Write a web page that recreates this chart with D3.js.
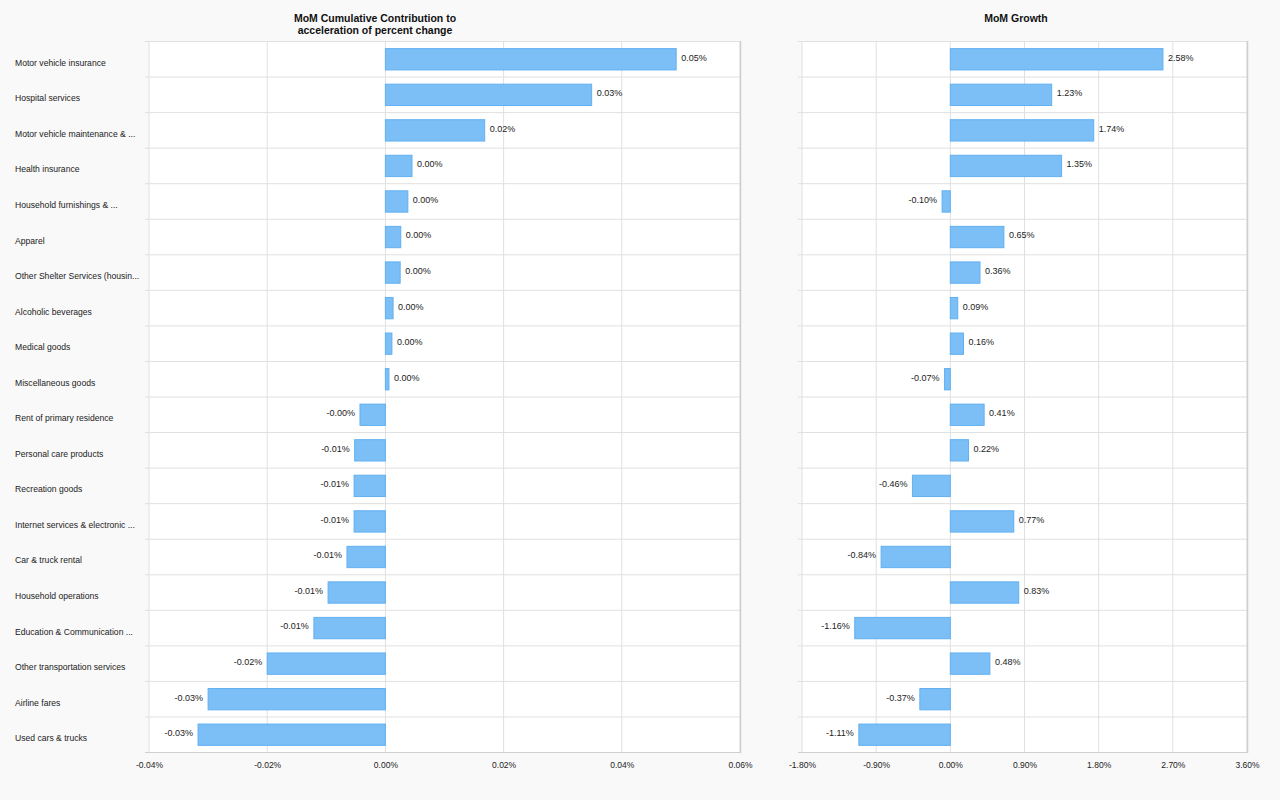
<!DOCTYPE html>
<html>
<head>
<meta charset="utf-8">
<script src="https://d3js.org/d3.v7.min.js"></script>
<style>
  body { margin: 0; background: #f9f9f9; }
  svg { display: block; font-family: "Liberation Sans", Arial, sans-serif; }
  .grid line { stroke: #e0e0e0; stroke-width: 1; }
  .cat { font-size: 8.6px; fill: #222; }
  .val { font-size: 9px; fill: #222; }
  .tick text { font-size: 8.5px; fill: #222; }
  .title { font-size: 10.5px; font-weight: bold; fill: #111; }
</style>
</head>
<body>
<script>
// data
var categories = [
  "Motor vehicle insurance",
  "Hospital services",
  "Motor vehicle maintenance & ...",
  "Health insurance",
  "Household furnishings & ...",
  "Apparel",
  "Other Shelter Services (housin...",
  "Alcoholic beverages",
  "Medical goods",
  "Miscellaneous goods",
  "Rent of primary residence",
  "Personal care products",
  "Recreation goods",
  "Internet services & electronic ...",
  "Car & truck rental",
  "Household operations",
  "Education & Communication ...",
  "Other transportation services",
  "Airline fares",
  "Used cars & trucks"
];

var contribution = [0.0492, 0.0349, 0.0168, 0.0045, 0.0038, 0.0026, 0.0025, 0.0013, 0.0011, 0.0006,
  -0.0043, -0.0052, -0.0053, -0.0053, -0.0065, -0.0097, -0.0121, -0.0200, -0.0300, -0.0317];

var growth = [2.58, 1.23, 1.74, 1.35, -0.10, 0.65, 0.36, 0.09, 0.16, -0.07,
  0.41, 0.22, -0.46, 0.77, -0.84, 0.83, -1.16, 0.48, -0.37, -1.11];

var leftTicks = [-0.04, -0.02, 0, 0.02, 0.04, 0.06];
var rightTicks = [-1.8, -0.9, 0, 0.9, 1.8, 2.7, 3.6];

var w = 1280;
var h = 800;
var plotTop = 41, plotBottom = 752;

var svg = d3.select("body").append("svg")
  .attr("width", w)
  .attr("height", h);

var y = d3.scaleBand()
  .domain(categories)
  .range([plotTop, plotBottom])
  .paddingInner(0.4)
  .paddingOuter(0.2);

var rowY = d3.scaleBand()
  .domain(categories)
  .range([plotTop, plotBottom]);

function pct(v) {
  var s = Math.abs(v).toFixed(2);
  return (v < 0 ? "-" : "") + s + "%";
}

function drawPanel(opts) {
  var x = d3.scaleLinear().domain(opts.domain).range([opts.x0, opts.x1]);
  var g = svg.append("g");

  g.append("rect")
    .attr("x", opts.x0).attr("y", plotTop)
    .attr("width", opts.x1 - opts.x0).attr("height", plotBottom - plotTop)
    .attr("fill", "#fff");

  // vertical grid
  g.append("g").attr("class", "grid")
    .selectAll("line")
    .data(opts.ticks)
    .enter().append("line")
    .attr("x1", function(d) { return x(d); })
    .attr("x2", function(d) { return x(d); })
    .attr("y1", plotTop).attr("y2", plotBottom);

  // row separators
  g.append("g").attr("class", "grid")
    .selectAll("line")
    .data(categories)
    .enter().append("line")
    .attr("x1", opts.x0 - 4).attr("x2", opts.x1)
    .attr("y1", function(d) { return rowY(d) + 0.5; })
    .attr("y2", function(d) { return rowY(d) + 0.5; });

  g.append("line")
    .attr("x1", opts.x0 - 4).attr("x2", opts.x1)
    .attr("y1", plotBottom + 0.5).attr("y2", plotBottom + 0.5)
    .attr("stroke", "#d0d0d0");

  g.append("line")
    .attr("x1", opts.x1 + 0.5).attr("x2", opts.x1 + 0.5)
    .attr("y1", plotTop).attr("y2", plotBottom + 1)
    .attr("stroke", "#cfcfcf").attr("stroke-width", 1.5);

  var rows = categories.map(function(c, i) { return { cat: c, v: opts.values[i] }; });

  g.selectAll(".bar")
    .data(rows)
    .enter().append("rect")
    .attr("class", "bar")
    .attr("x", function(d) { return x(Math.min(0, d.v)); })
    .attr("y", function(d) { return y(d.cat) + 0.5; })
    .attr("width", function(d) { return Math.abs(x(d.v) - x(0)); })
    .attr("height", y.bandwidth())
    .attr("fill", "#7bbff6")
    .attr("stroke", "#62b0f2")
    .attr("stroke-width", 1);

  g.selectAll(".val")
    .data(rows)
    .enter().append("text")
    .attr("class", "val")
    .attr("x", function(d) { return d.v >= 0 ? x(d.v) + 5 : x(d.v) - 5; })
    .attr("y", function(d) { return y(d.cat) + y.bandwidth() / 2 + 1; })
    .attr("dy", "0.1em")
    .attr("text-anchor", function(d) { return d.v >= 0 ? "start" : "end"; })
    .text(function(d) { return pct(d.v); });

  var axis = d3.axisBottom(x)
    .tickValues(opts.ticks)
    .tickSize(0)
    .tickPadding(10)
    .tickFormat(pct);

  var ag = g.append("g")
    .attr("transform", "translate(0," + plotBottom + ")")
    .call(axis);
  ag.select(".domain").remove();

  var t = g.append("text").attr("class", "title")
    .attr("x", opts.titleX).attr("text-anchor", "middle");
  opts.title.forEach(function(line, i) {
    t.append("tspan").attr("x", opts.titleX).attr("y", 22 + i * 12).text(line);
  });
}

drawPanel({
  domain: [-0.04, 0.06], x0: 149, x1: 740,
  ticks: leftTicks, values: contribution,
  title: ["MoM Cumulative Contribution to", "acceleration of percent change"],
  titleX: 375
});

drawPanel({
  domain: [-1.8, 3.6], x0: 802, x1: 1247,
  ticks: rightTicks, values: growth,
  title: ["MoM Growth"],
  titleX: 1016
});

// category labels
svg.append("g")
  .selectAll("text")
  .data(categories)
  .enter().append("text")
  .attr("class", "cat")
  .attr("x", 15)
  .attr("y", function(d) { return rowY(d) + rowY.bandwidth() / 2 + 7; })
  .text(function(d) { return d; });
</script>
</body>
</html>
